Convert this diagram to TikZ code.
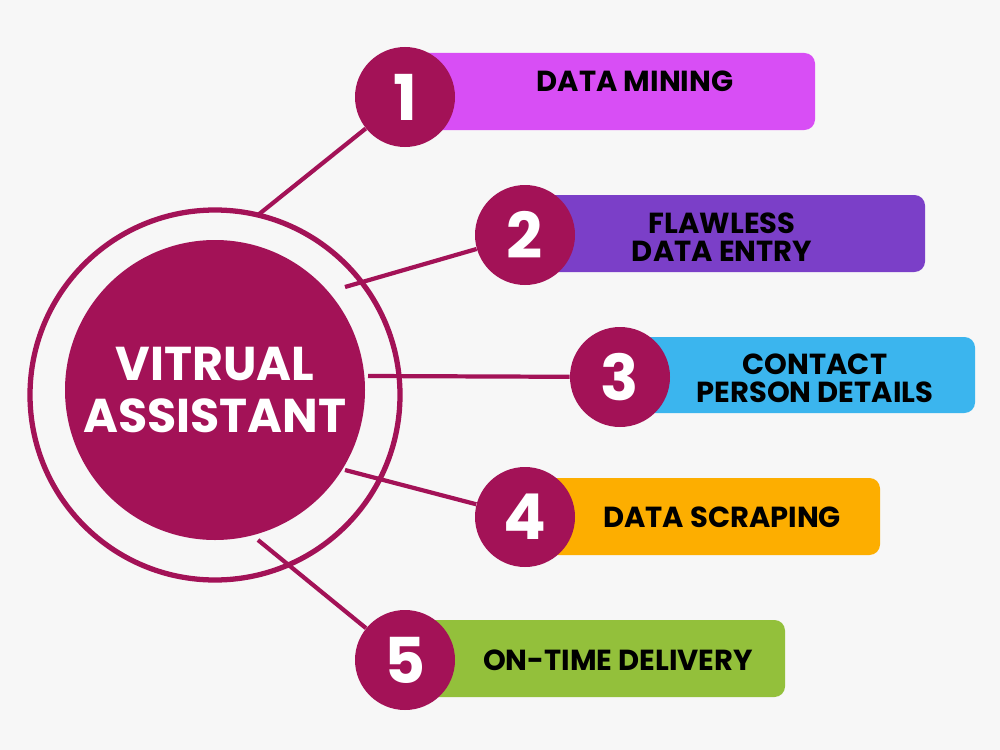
\documentclass[tikz,border=0pt]{standalone}
\usepackage{fontspec}
\setmainfont{Poppins}
\definecolor{mar}{HTML}{A31257}
\definecolor{bg}{HTML}{F7F7F7}
\definecolor{c1}{HTML}{D84EF5}
\definecolor{c2}{HTML}{7B3FC8}
\definecolor{c3}{HTML}{3BB5EE}
\definecolor{c4}{HTML}{FDAE00}
\definecolor{c5}{HTML}{93C03B}
\begin{document}
\begin{tikzpicture}[x=0.02cm,y=-0.02cm,
  num/.style={circle,fill=mar,minimum size=100*0.02cm,inner sep=0,text=white,font=\fontsize{36}{36}\selectfont\bfseries},
  bar/.style={rounded corners=6pt},
  lab/.style={font=\fontsize{16.5}{16}\selectfont\bfseries,align=center,text=black},
  conn/.style={draw=mar,line width=2.4pt}]
\fill[bg] (0,0) rectangle (1000,750);
\useasboundingbox (0,0) rectangle (1000,750);
% bars
\fill[c1,bar] (405,53) rectangle (815,130);
\fill[c2,bar] (525,195) rectangle (925,272);
\fill[c3,bar] (620,337) rectangle (975,413);
\fill[c4,bar] (525,478) rectangle (880,555);
\fill[c5,bar] (405,620) rectangle (785,697);
\node[lab] (t1) at (635,81) {DATA MINING};
\node[lab] (t2) at (722,237) {FLAWLESS\\DATA ENTRY};
\node[lab] (t3) at (815,378) {CONTACT\\PERSON DETAILS};
\node[lab] (t4) at (722,517) {DATA SCRAPING};
\node[lab] (t5) at (618,660) {ON-TIME DELIVERY};
% connectors
\coordinate (s1) at (258,215);
\coordinate (s2) at (345,287);
\coordinate (s3) at (368,376);
\coordinate (s4) at (345,470);
\coordinate (s5) at (258,540);
\node[num] (n1) at (405,97) {1};
\node[num] (n2) at (525,235) {2};
\node[num] (n3) at (620,377) {3};
\node[num] (n4) at (525,517) {4};
\node[num] (n5) at (405,660) {5};
\draw[conn] (s1) -- (n1);
\draw[conn] (s2) -- (n2);
\draw[conn] (s3) -- (n3);
\draw[conn] (s4) -- (n4);
\draw[conn] (s5) -- (n5);
% main circles
\node[circle,draw=mar,line width=3pt,minimum size=370*0.02cm,inner sep=0] (outer) at (215,395) {};
\node[circle,fill=mar,minimum size=300*0.02cm,inner sep=0,text=white,align=center,
  font=\fontsize{27}{30}\selectfont\bfseries] (va) at (215,390) {VITRUAL\\ASSISTANT};
\end{tikzpicture}
\end{document}
